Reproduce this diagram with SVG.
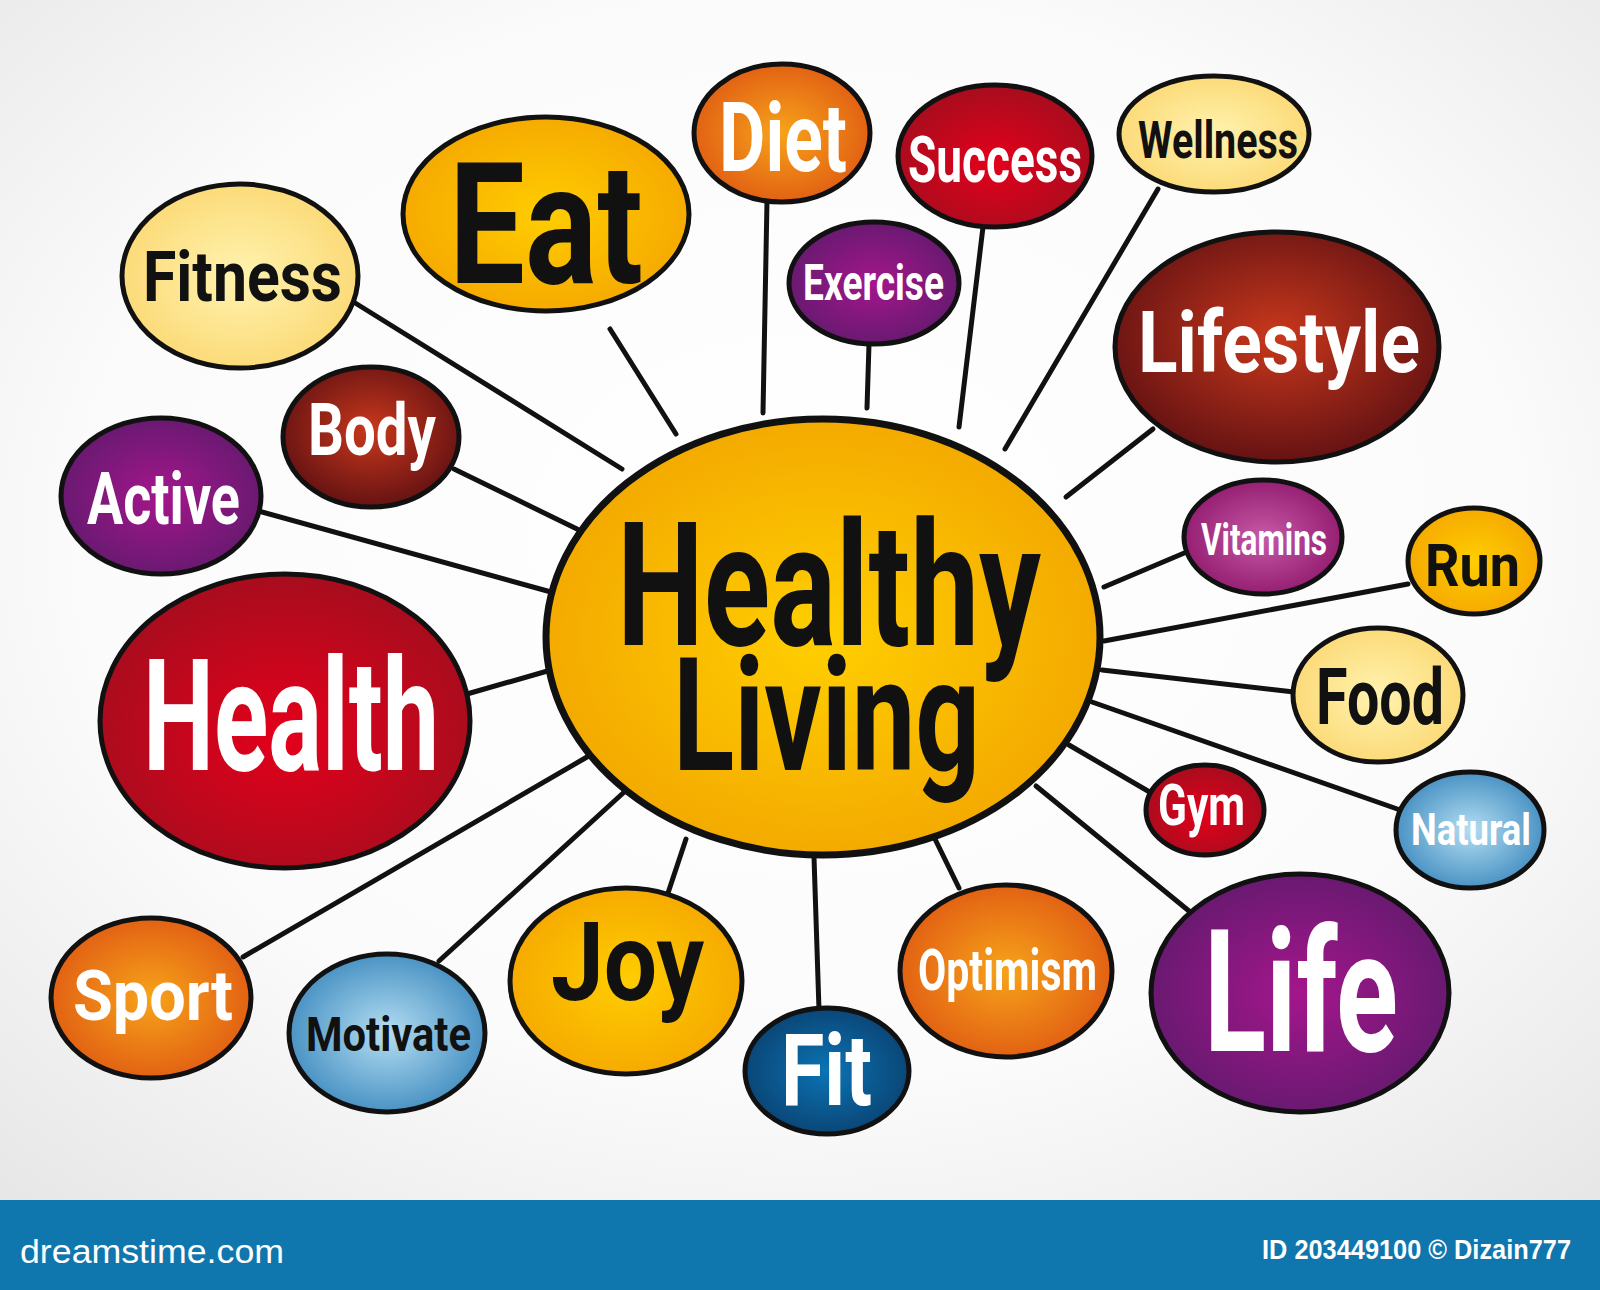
<svg xmlns="http://www.w3.org/2000/svg" width="1600" height="1290" viewBox="0 0 1600 1290">
<defs>
<radialGradient id="bg" cx="50%" cy="45%" r="75%"><stop offset="0" stop-color="#ffffff"/><stop offset="0.6" stop-color="#fbfbfb"/><stop offset="1" stop-color="#e6e6e6"/></radialGradient>
<radialGradient id="gPale" cx="50%" cy="50%" r="60%"><stop offset="0" stop-color="#fff3b0"/><stop offset="1" stop-color="#fbd66e"/></radialGradient>
<radialGradient id="gYel" cx="50%" cy="50%" r="60%"><stop offset="0" stop-color="#ffcd00"/><stop offset="1" stop-color="#f4a400"/></radialGradient>
<radialGradient id="gOra" cx="50%" cy="50%" r="60%"><stop offset="0" stop-color="#f7a31a"/><stop offset="1" stop-color="#de5512"/></radialGradient>
<radialGradient id="gRed" cx="50%" cy="55%" r="60%"><stop offset="0" stop-color="#e4001b"/><stop offset="1" stop-color="#a10e1e"/></radialGradient>
<radialGradient id="gPur" cx="50%" cy="50%" r="60%"><stop offset="0" stop-color="#a4168c"/><stop offset="1" stop-color="#5e1a6c"/></radialGradient>
<radialGradient id="gBrn" cx="50%" cy="45%" r="60%"><stop offset="0" stop-color="#c9381c"/><stop offset="1" stop-color="#5c0f12"/></radialGradient>
<radialGradient id="gMag" cx="50%" cy="50%" r="60%"><stop offset="0" stop-color="#c65aa6"/><stop offset="1" stop-color="#8c1368"/></radialGradient>
<radialGradient id="gLbl" cx="50%" cy="50%" r="60%"><stop offset="0" stop-color="#b4def2"/><stop offset="1" stop-color="#3584bb"/></radialGradient>
<radialGradient id="gDbl" cx="50%" cy="50%" r="60%"><stop offset="0" stop-color="#0a74b4"/><stop offset="1" stop-color="#0b3d6b"/></radialGradient>
<radialGradient id="gCen" cx="50%" cy="50%" r="60%"><stop offset="0" stop-color="#ffcf00"/><stop offset="1" stop-color="#f2a300"/></radialGradient>
</defs>
<style>
.n{stroke:#111;stroke-width:5}
.c{stroke:#111;stroke-width:5;stroke-linecap:round;fill:none}
.t{font-family:"Liberation Sans Narrow","Roboto","Liberation Sans",sans-serif;font-weight:bold;text-anchor:start}
.w{fill:#fff}
.k{fill:#111}
.pale{fill:url(#gPale)}.yel{fill:url(#gYel)}.ora{fill:url(#gOra)}.red{fill:url(#gRed)}.pur{fill:url(#gPur)}.brn{fill:url(#gBrn)}.mag{fill:url(#gMag)}.lbl{fill:url(#gLbl)}.dbl{fill:url(#gDbl)}
</style>
<rect x="0" y="0" width="1600" height="1200" fill="url(#bg)"/>
<g id="connectors">
<line class="c" x1="352" y1="301" x2="622" y2="469"/>
<line class="c" x1="610" y1="329" x2="676" y2="434"/>
<line class="c" x1="767" y1="201" x2="763" y2="413"/>
<line class="c" x1="869" y1="344" x2="867" y2="408"/>
<line class="c" x1="983" y1="227" x2="959" y2="427"/>
<line class="c" x1="1158" y1="189" x2="1005" y2="449"/>
<line class="c" x1="1153" y1="429" x2="1066" y2="497"/>
<line class="c" x1="454" y1="469" x2="577" y2="529"/>
<line class="c" x1="255" y1="510" x2="551" y2="592"/>
<line class="c" x1="1189" y1="551" x2="1104" y2="587"/>
<line class="c" x1="1408" y1="584" x2="1104" y2="641"/>
<line class="c" x1="1294" y1="692" x2="1102" y2="670"/>
<line class="c" x1="1403" y1="811" x2="1092" y2="702"/>
<line class="c" x1="1153" y1="794" x2="1069" y2="745"/>
<line class="c" x1="1189" y1="911" x2="1036" y2="786"/>
<line class="c" x1="959" y1="888" x2="934" y2="837"/>
<line class="c" x1="819" y1="1010" x2="814" y2="857"/>
<line class="c" x1="668" y1="893" x2="686" y2="839"/>
<line class="c" x1="439" y1="961" x2="633" y2="784"/>
<line class="c" x1="243" y1="957" x2="587" y2="757"/>
<line class="c" x1="467" y1="694" x2="551" y2="670"/>
</g>
<g id="center">
<ellipse cx="823" cy="637" rx="277" ry="218" fill="url(#gCen)" stroke="#111" stroke-width="7"/>
<text class="t k" x="617" y="645" font-size="172" textLength="424" lengthAdjust="spacingAndGlyphs">Healthy</text>
<text class="t k" x="673" y="770" font-size="158" textLength="307" lengthAdjust="spacingAndGlyphs">Living</text>
</g>
<g id="fitness"><ellipse class="n pale" cx="240" cy="276" rx="118" ry="92"/><text class="t k" x="143" y="301" font-size="70" textLength="199" lengthAdjust="spacingAndGlyphs">Fitness</text></g>
<g id="eat"><ellipse class="n yel" cx="546" cy="214" rx="143" ry="97"/><text class="t k" x="449" y="283" font-size="168" textLength="194" lengthAdjust="spacingAndGlyphs">Eat</text></g>
<g id="diet"><ellipse class="n ora" cx="782" cy="133" rx="88" ry="69"/><text class="t w" x="719" y="171" font-size="96" textLength="128" lengthAdjust="spacingAndGlyphs">Diet</text></g>
<g id="success"><ellipse class="n red" cx="995" cy="156" rx="97" ry="71"/><text class="t w" x="908" y="182" font-size="64" textLength="174" lengthAdjust="spacingAndGlyphs">Success</text></g>
<g id="wellness"><ellipse class="n pale" cx="1214" cy="134" rx="95" ry="58"/><text class="t k" x="1138" y="158" font-size="52" textLength="160" lengthAdjust="spacingAndGlyphs">Wellness</text></g>
<g id="exercise"><ellipse class="n pur" cx="874" cy="283" rx="85" ry="61"/><text class="t w" x="803" y="300" font-size="50" textLength="141" lengthAdjust="spacingAndGlyphs">Exercise</text></g>
<g id="lifestyle"><ellipse class="n brn" cx="1277" cy="347" rx="162" ry="115"/><text class="t w" x="1138" y="372" font-size="86" textLength="282" lengthAdjust="spacingAndGlyphs">Lifestyle</text></g>
<g id="body"><ellipse class="n brn" cx="371" cy="437" rx="88" ry="70"/><text class="t w" x="308" y="455" font-size="72" textLength="128" lengthAdjust="spacingAndGlyphs">Body</text></g>
<g id="active"><ellipse class="n pur" cx="161" cy="496" rx="100" ry="78"/><text class="t w" x="87" y="524" font-size="72" textLength="153" lengthAdjust="spacingAndGlyphs">Active</text></g>
<g id="vitamins"><ellipse class="n mag" cx="1263" cy="537" rx="79" ry="57"/><text class="t w" x="1201" y="555" font-size="44" textLength="126" lengthAdjust="spacingAndGlyphs">Vitamins</text></g>
<g id="run"><ellipse class="n yel" cx="1474" cy="561" rx="66" ry="53"/><text class="t k" x="1425" y="586" font-size="60" textLength="95" lengthAdjust="spacingAndGlyphs">Run</text></g>
<g id="health"><ellipse class="n red" cx="285" cy="721" rx="185" ry="147"/><text class="t w" x="143" y="770" font-size="156" textLength="296" lengthAdjust="spacingAndGlyphs">Health</text></g>
<g id="food"><ellipse class="n pale" cx="1378" cy="695" rx="85" ry="67"/><text class="t k" x="1316" y="724" font-size="78" textLength="128" lengthAdjust="spacingAndGlyphs">Food</text></g>
<g id="gym"><ellipse class="n red" cx="1205" cy="810" rx="59" ry="45"/><text class="t w" x="1158" y="825" font-size="58" textLength="87" lengthAdjust="spacingAndGlyphs">Gym</text></g>
<g id="natural"><ellipse class="n lbl" cx="1470" cy="830" rx="74" ry="58"/><text class="t w" x="1411" y="845" font-size="44" textLength="120" lengthAdjust="spacingAndGlyphs">Natural</text></g>
<g id="sport"><ellipse class="n ora" cx="151" cy="998" rx="100" ry="80"/><text class="t w" x="73" y="1020" font-size="70" textLength="160" lengthAdjust="spacingAndGlyphs">Sport</text></g>
<g id="motivate"><ellipse class="n lbl" cx="387" cy="1033" rx="98" ry="79"/><text class="t k" x="306" y="1051" font-size="48" textLength="165" lengthAdjust="spacingAndGlyphs">Motivate</text></g>
<g id="joy"><ellipse class="n yel" cx="626" cy="981" rx="116" ry="93"/><text class="t k" x="551" y="1000" font-size="110" textLength="153" lengthAdjust="spacingAndGlyphs">Joy</text></g>
<g id="fit"><ellipse class="n dbl" cx="827" cy="1071" rx="82" ry="63"/><text class="t w" x="781" y="1105" font-size="100" textLength="91" lengthAdjust="spacingAndGlyphs">Fit</text></g>
<g id="optimism"><ellipse class="n ora" cx="1006" cy="971" rx="106" ry="86"/><text class="t w" x="918" y="990" font-size="58" textLength="179" lengthAdjust="spacingAndGlyphs">Optimism</text></g>
<g id="life"><ellipse class="n pur" cx="1300" cy="993" rx="149" ry="119"/><text class="t w" x="1204" y="1051" font-size="170" textLength="194" lengthAdjust="spacingAndGlyphs">Life</text></g>
<g id="footer">
<rect x="0" y="1200" width="1600" height="90" fill="#0f77ae"/>
<text x="20" y="1263" font-family="'Liberation Sans',sans-serif" font-size="34" fill="#fff" textLength="264" lengthAdjust="spacingAndGlyphs">dreamstime.com</text>
<text x="1262" y="1259" font-family="'Liberation Sans Narrow','Liberation Sans',sans-serif" font-weight="bold" font-size="27" fill="#fff" textLength="309" lengthAdjust="spacingAndGlyphs">ID 203449100 © Dizain777</text>
</g>
</svg>
